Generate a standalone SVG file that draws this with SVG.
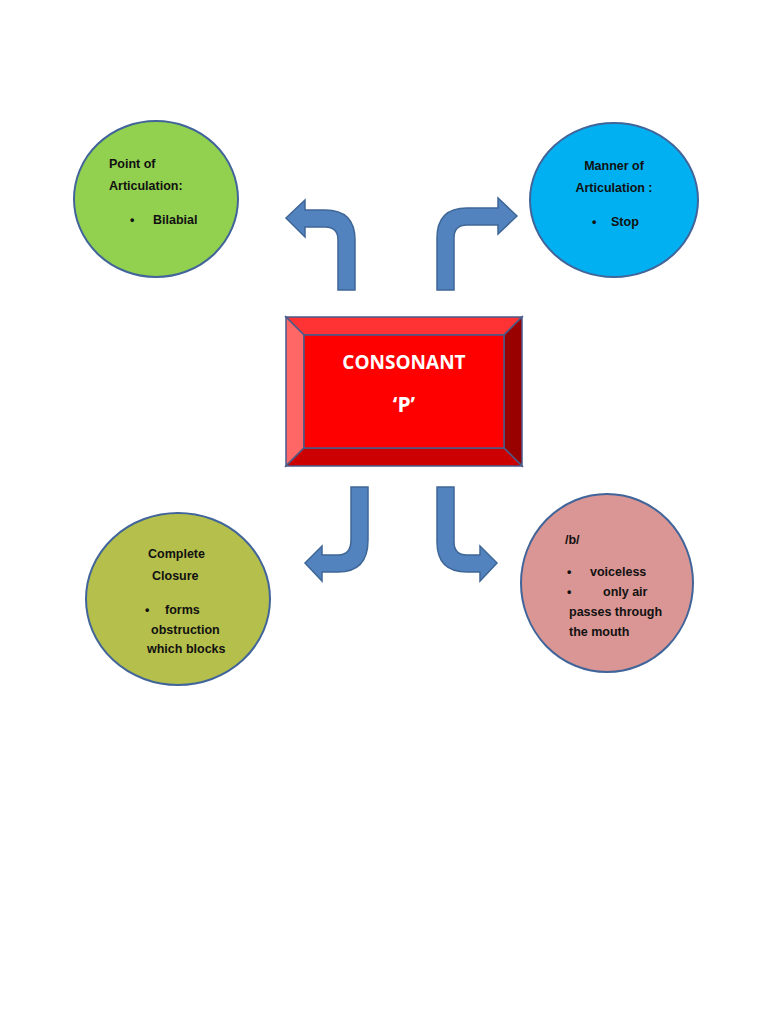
<svg xmlns="http://www.w3.org/2000/svg" width="768" height="1024" viewBox="0 0 768 1024">
<style>
.c{stroke:#41659a;stroke-width:2}
.a{fill:#5383be;stroke:#3f6797;stroke-width:1.5}
.t{font-family:"Liberation Sans",Arial,sans-serif;font-weight:bold;font-size:12.5px;fill:#111}
.w{font-family:"Open Sans","Liberation Sans",sans-serif;font-weight:bold;fill:#fff}
</style>
<rect width="768" height="1024" fill="#fff"/>
<g id="connectors">
<path class="a" d="M338,290 L338,240 Q338,227 325,227 L305,227 L305,237 L286,218 L305,200 L305,210 L325,210 Q355,210 355,240 L355,290 Z"/>
<path class="a" d="M437,290 L437,238 Q437,208 467,208 L498,208 L498,198 L517,216 L498,234 L498,225 L467,225 Q454,225 454,238 L454,290 Z"/>
<path class="a" d="M351,487 L368,487 L368,540 Q368,572 338,572 L322,572 L322,581 L305,563 L322,546 L322,555 L338,555 Q351,555 351,540 Z"/>
<path class="a" d="M437,487 L454,487 L454,542 Q454,555 467,555 L480,555 L480,546 L497,563 L480,581 L480,572 L467,572 Q437,572 437,542 Z"/>
</g>
<g id="center">
<polygon points="286,317 522,317 504,335 304,335" fill="#ff3333" stroke="#4a5a8a" stroke-width="1.5"/>
<polygon points="286,317 304,335 304,448 286,466" fill="#ff6666" stroke="#4a5a8a" stroke-width="1.5"/>
<polygon points="522,317 504,335 504,448 522,466" fill="#990000" stroke="#4a5a8a" stroke-width="1.5"/>
<polygon points="286,466 304,448 504,448 522,466" fill="#cc0000" stroke="#4a5a8a" stroke-width="1.5"/>
<rect x="304" y="335" width="200" height="113" fill="#ff0000" stroke="#4a5a8a" stroke-width="1.5"/>
<text class="w" x="404" y="369" font-size="19" text-anchor="middle">CONSONANT</text>
<text class="w" x="404" y="412" font-size="21" text-anchor="middle">‘P’</text>
</g>
<g id="point">
<ellipse class="c" cx="156" cy="199" rx="82" ry="78" fill="#92d050"/>
<text class="t" x="109" y="168">Point of</text>
<text class="t" x="109" y="190">Articulation:</text>
<text class="t" x="130" y="224">•</text>
<text class="t" x="153" y="224">Bilabial</text>
</g>
<g id="manner">
<ellipse class="c" cx="614" cy="200" rx="84" ry="77" fill="#00b0f0"/>
<text class="t" x="614" y="170" text-anchor="middle">Manner of</text>
<text class="t" x="614" y="192" text-anchor="middle">Articulation :</text>
<text class="t" x="592" y="226">•</text>
<text class="t" x="611" y="226">Stop</text>
</g>
<g id="closure">
<ellipse class="c" cx="178" cy="599" rx="92" ry="86" fill="#b5bf4c"/>
<text class="t" x="148" y="558">Complete</text>
<text class="t" x="152" y="580">Closure</text>
<text class="t" x="145" y="614">•</text>
<text class="t" x="165" y="614">forms</text>
<text class="t" x="151" y="634">obstruction</text>
<text class="t" x="147" y="653">which blocks</text>
</g>
<g id="b">
<ellipse class="c" cx="607" cy="583" rx="86" ry="89" fill="#d99694"/>
<text class="t" x="565" y="544" font-size="14">/b/</text>
<text class="t" x="567" y="576">•</text>
<text class="t" x="590" y="576">voiceless</text>
<text class="t" x="567" y="596">•</text>
<text class="t" x="603" y="596">only air</text>
<text class="t" x="569" y="616">passes through</text>
<text class="t" x="569" y="636">the mouth</text>
</g>
</svg>
